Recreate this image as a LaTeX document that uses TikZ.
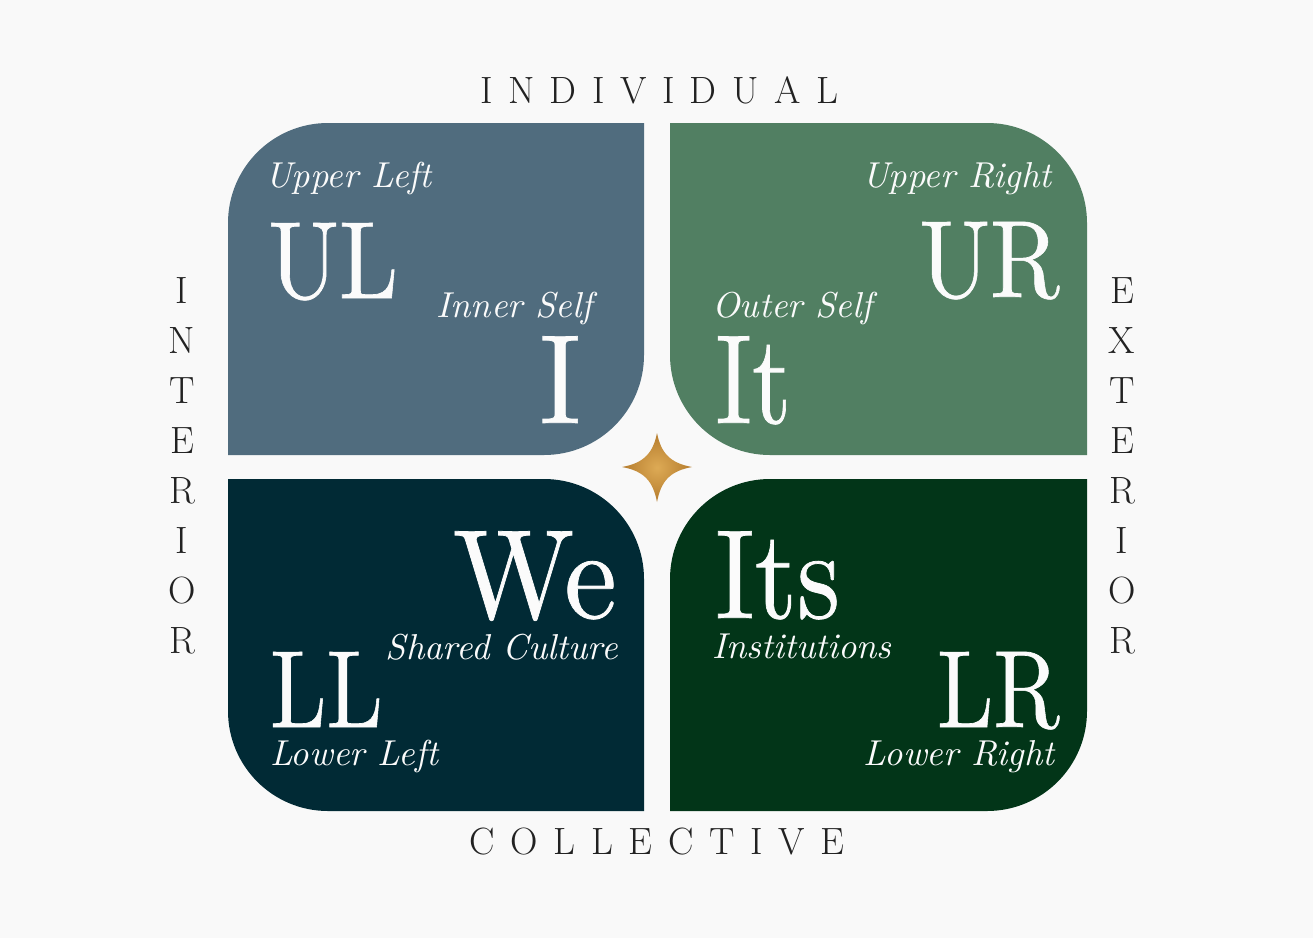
\documentclass[tikz,border=0pt]{standalone}
\usepackage{fontspec}
\usepackage{graphicx}
\newfontfamily\heavyserif{lmroman10-regular.otf}[FakeBold=0.6]
\newfontfamily\labitalic{lmroman10-italic.otf}
\definecolor{bgc}{HTML}{F9F9F9}
\definecolor{ink}{HTML}{222222}
\definecolor{ulc}{HTML}{506C7E}
\definecolor{urc}{HTML}{517F62}
\definecolor{llc}{HTML}{012A35}
\definecolor{lrc}{HTML}{023518}
\definecolor{txtw}{HTML}{FBFBFB}
\definecolor{goldA}{HTML}{DDAA55}
\definecolor{goldB}{HTML}{B57C2E}
\begin{document}
\begin{tikzpicture}[x=1pt,y=-1pt,
  bigtxt/.style={text=txtw, inner sep=0pt, text depth=0pt, font=\heavyserif\fontsize{110}{110}\selectfont},
  hugetxt/.style={text=txtw, inner sep=0pt, text depth=0pt, font=\heavyserif\fontsize{127}{127}\selectfont},
  subtxt/.style={text=txtw, inner sep=0pt, font=\labitalic\fontsize{36}{36}\selectfont},
  axistxt/.style={text=ink, inner sep=0pt, font=\fontsize{38}{38}\selectfont}]
% background / bounding box
\fill[bgc] (0,0) rectangle (1313,938);
\useasboundingbox (0,0) rectangle (1313,938);
% quadrants
\fill[ulc] (228,455) -- (228,223) .. controls (228,167.8) and (272.8,123) .. (328,123)
  -- (644,123) -- (644,355) .. controls (644,410.2) and (599.2,455) .. (544,455) -- cycle;
\fill[urc] (670,123) -- (987,123) .. controls (1042.2,123) and (1087,167.8) .. (1087,223)
  -- (1087,455) -- (770,455) .. controls (714.8,455) and (670,410.2) .. (670,355) -- cycle;
\fill[llc] (228,479) -- (544,479) .. controls (599.2,479) and (644,523.8) .. (644,579)
  -- (644,811) -- (328,811) .. controls (272.8,811) and (228,766.2) .. (228,711) -- cycle;
\fill[lrc] (770,479) -- (1087,479) -- (1087,711) .. controls (1087,766.2) and (1042.2,811) .. (987,811)
  -- (670,811) -- (670,579) .. controls (670,523.8) and (714.8,479) .. (770,479) -- cycle;
% star
\shade[inner color=goldA, outer color=goldB]
  (657,433) .. controls (661,453) and (670,463) .. (692,467)
  .. controls (670,471) and (661,481) .. (657,502)
  .. controls (653,481) and (644,471) .. (622,467)
  .. controls (644,463) and (653,453) .. (657,433) -- cycle;
% axis labels
\node[axistxt, anchor=base] (indiv) at (659,103)
  {I\kern15.5pt N\kern15.5pt D\kern15.5pt I\kern15.5pt V\kern15.5pt I\kern15.5pt D\kern15.5pt U\kern15.5pt A\kern15.5pt L};
\node[axistxt, anchor=base] (coll) at (657,854)
  {C\kern15.7pt O\kern15.7pt L\kern15.7pt L\kern15.7pt E\kern15.7pt C\kern15.7pt T\kern15.7pt I\kern15.7pt V\kern15.7pt E};
\foreach \ch [count=\i] in {I,N,T,E,R,I,O,R}
  \node[axistxt, anchor=base, name=int\i] at (182,{303+50*(\i-1)}) {\ch};
\foreach \ch [count=\i] in {E,X,T,E,R,I,O,R}
  \node[axistxt, anchor=base, name=ext\i] at (1122,{303+50*(\i-1)}) {\ch};
% upper left
\node[subtxt, anchor=base west] (ulname) at (265,187) {Upper Left};
\node[bigtxt, anchor=base west] (ulab) at (268,298) {\scalebox{0.86}[1]{UL}};
\node[subtxt, anchor=base east] (inner) at (593,317) {Inner Self};
\node[hugetxt, anchor=base east] (ipron) at (581,423) {\scalebox{0.9}[1]{I}};
% upper right
\node[subtxt, anchor=base east] (urname) at (1052,187) {Upper Right};
\node[bigtxt, anchor=base east] (urab) at (1060,297) {\scalebox{0.86}[1]{UR}};
\node[subtxt, anchor=base west] (outer) at (712,317) {Outer Self};
\node[hugetxt, anchor=base west] (itpron) at (715,423) {\scalebox{0.8}[1]{It}};
% lower left
\node[hugetxt, anchor=base east] (wepron) at (617,618) {\scalebox{0.93}[1]{We}};
\node[subtxt, anchor=base east] (shared) at (618,659) {Shared Culture};
\node[bigtxt, anchor=base west] (llab) at (270,727) {\scalebox{0.82}[1]{LL}};
\node[subtxt, anchor=base west] (llname) at (270,765) {Lower Left};
% lower right
\node[hugetxt, anchor=base west] (itspron) at (715,618) {\scalebox{0.86}[1]{Its}};
\node[subtxt, anchor=base west] (inst) at (712,658) {Institutions};
\node[bigtxt, anchor=base east] (lrab) at (1060,727) {\scalebox{0.82}[1]{LR}};
\node[subtxt, anchor=base east] (lrname) at (1055,765) {Lower Right};
\end{tikzpicture}
\end{document}
